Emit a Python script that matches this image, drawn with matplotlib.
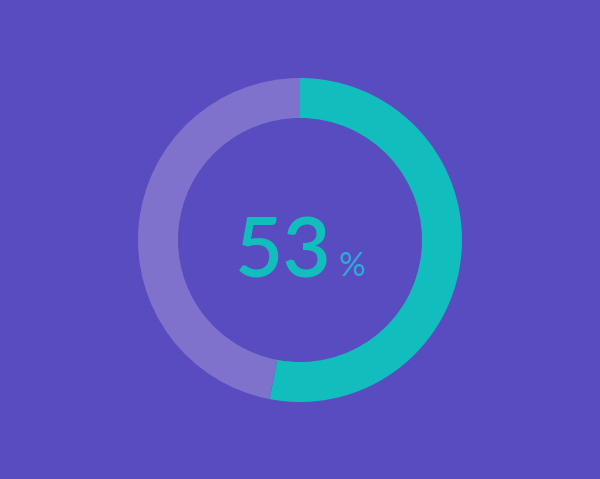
import matplotlib
matplotlib.use('Agg')
import matplotlib.pyplot as plt

# donut values (percent)
labels = ['done', 'rest']
values = [53, 47]
colors = ['#12BDBD', '#7E72CC']
bg = '#594BC0'
pct_color = '#2EAAD8'


def main():
    fig = plt.figure(figsize=(6, 4.79), dpi=100)
    fig.patch.set_facecolor(bg)
    ax = fig.add_axes([0, 0, 1, 1])
    ax.set_facecolor(bg)

    # ring: outer radius ~162px, thickness ~40px, centre at (300, 240) from top
    ax.pie(values, colors=colors, startangle=90, counterclock=False,
           center=(300, 239), radius=162,
           wedgeprops=dict(width=40, edgecolor='none', linewidth=0))

    ax.set_xlim(0, 600)
    ax.set_ylim(0, 479)
    ax.set_aspect('equal')
    ax.axis('off')

    ax.text(332, 201, str(values[0]), color=colors[0], fontsize=60,
            family='Lato', fontweight='semibold', ha='right', va='baseline')
    ax.text(338, 203, '%', color=pct_color, fontsize=24, family='Lato',
            fontweight='normal', ha='left', va='baseline')

    fig.savefig('out.png', dpi=100, facecolor=bg)


if __name__ == "__main__":
    main()
